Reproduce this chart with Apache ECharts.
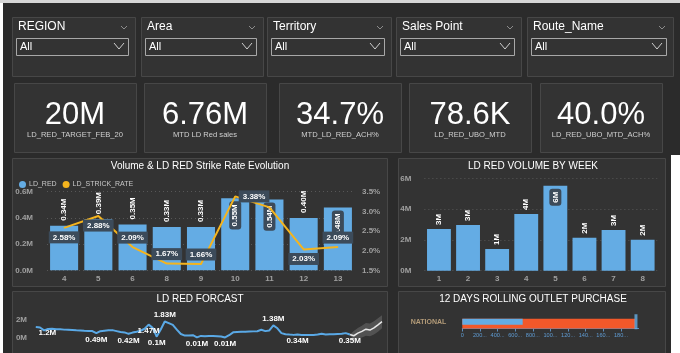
<!DOCTYPE html>
<html><head><meta charset="utf-8">
<script src="https://cdn.jsdelivr.net/npm/echarts@6/dist/echarts.min.js"></script>
<style>html,body{margin:0;padding:0;background:#fff;}#c{width:680px;height:353px;}</style>
</head><body><div id="c"></div>
<script>
// ---------- DATA ----------
const slicerNames = ['REGION', 'Area', 'Territory', 'Sales Point', 'Route_Name'];
const slicerValue = 'All';
const kpiValues = ['20M', '6.76M', '34.7%', '78.6K', '40.0%'];
const kpiLabels = ['LD_RED_TARGET_FEB_20', 'MTD LD Red sales', 'MTD_LD_RED_ACH%', 'LD_RED_UBO_MTD', 'LD_RED_UBO_MTD_ACH%'];

const evoWeeks = ['4', '5', '6', '8', '9', '10', '11', '12', '13'];
const evoVolume = [0.34, 0.39, 0.35, 0.33, 0.33, 0.55, 0.54, 0.40, 0.48];   // M
const evoStrike = [2.58, 2.88, 2.09, 1.67, 1.66, 3.38, 3.10, 2.03, 2.09];   // %

const weekCats = ['1', '2', '3', '4', '5', '6', '7', '8'];
const weekVolume = [2.71, 2.97, 1.41, 3.68, 5.52, 2.14, 2.64, 2.01];        // M

const fcActual = [1.2, 1.15, 0.81, 0.97, 0.99, 0.95, 0.93, 0.9, 0.88, 0.85,
  0.82, 0.8, 0.77, 0.75, 0.73, 0.49, 0.72, 0.77, 0.82, 0.84,
  0.73, 0.62, 0.58, 0.42, 0.56, 0.66, 0.77, 1.0, 1.47, 1.1,
  0.1, 0.92, 1.83, 1.65, 1.45, 0.9, 0.4, 0.22, 0.22, 0.26,
  0.01, 0.18, 0.15, 0.17, 0.18, 0.15, 0.12, 0.01, 0.26, 0.59,
  0.64, 0.66, 0.66, 0.68, 0.7, 0.72, 0.88, 0.73, 0.81, 1.38,
  1.05, 0.5, 0.37, 0.33, 0.3, 0.34, 0.29, 0.29, 0.29, 0.29,
  0.35, 0.44, 0.35, 0.37, 0.37, 0.4, 0.42, 0.5, 0.35];
const fcForecast = [0.35, 0.2, 0.5, 0.7, 0.95, 0.85, 1.1, 1.45, 1.81];
const fcLower = [0.35, -0.35, -0.15, 0.0, 0.2, 0.15, 0.35, 0.65, 1.05];
const fcUpper = [0.35, 0.75, 1.1, 1.35, 1.65, 1.6, 1.85, 2.2, 2.55];
const fcLabelIdx = [0, 15, 23, 28, 30, 32, 40, 47, 59, 65, 78];

const bulletCats = ['NATIONAL'];
const bulletTarget = [19600];
const bulletActual = [6850];
const bulletMarker = [19700];

// ---------- STYLE / LAYOUT ----------
const FONT = '"Liberation Sans", Arial, Helvetica, sans-serif';
const BG = '#2b2b2b', PANEL = '#333333', BORDER = '#474747';
const BLUE = '#64ace4', GOLD = '#f4b41e', SLATE = '#3c4b5a', AXIS = '#a0a0a0';

const G = [];
function rect(x, y, w, h, fill, stroke) {
  G.push({type: 'rect', z: -10, shape: {x: x, y: y, width: w, height: h},
    style: {fill: fill || 'none', stroke: stroke || null, lineWidth: 1}});
}
function text(t, x, y, size, color, align, weight) {
  G.push({type: 'text', z: 5, x: x, y: y,
    style: {text: t, fill: color, font: (weight || 'normal') + ' ' + size + 'px ' + FONT,
      textAlign: align || 'left', textVerticalAlign: 'middle', align: align || 'left', verticalAlign: 'middle'}});
}
function chevron(pts, color) {
  G.push({type: 'polyline', z: 5, shape: {points: pts}, style: {stroke: color, lineWidth: 1, fill: 'none'}});
}
// frame
rect(0, 0, 680, 3, '#d6d6d6');
rect(3, 3, 677, 152, BG);
rect(3, 155, 668, 198, BG);

// slicers
const slicerBoxes = [[12, 123], [141, 122], [267, 124], [396, 125], [527, 146]];
slicerNames.forEach((n, i) => {
  const x = slicerBoxes[i][0], w = slicerBoxes[i][1];
  rect(x + 0.5, 17.5, w, 59, PANEL, BORDER);
  text(n, x + 6, 27, 12, '#ffffff');
  chevron([[x + w - 14, 26], [x + w - 11, 29], [x + w - 8, 26]], '#8c8c8c');
  const dx = x + 4, dw = w - 11;
  rect(dx + 0.5, 38.5, dw, 17, 'none', '#a8a8a8');
  text(slicerValue, dx + 4, 47, 11, '#ffffff');
  chevron([[dx + dw - 14, 43], [dx + dw - 9, 49], [dx + dw - 4, 43]], '#cfcfcf');
});

// KPI cards
const kpiCenters = [75, 205, 340, 470, 601];
kpiValues.forEach((v, i) => {
  const c = kpiCenters[i];
  rect(c - 61 + 0.5, 83.5, 122, 69, PANEL, BORDER);
  text(v, c, 115, 31, '#ffffff', 'center');
  text(kpiLabels[i], c, 135, 7.6, '#d0d0d0', 'center');
});

// chart panels
rect(12.5, 158.5, 375, 128, PANEL, BORDER);
rect(398.5, 158.5, 267, 128, PANEL, BORDER);
rect(12.5, 291.5, 375, 62, PANEL, BORDER);
rect(398.5, 291.5, 267, 62, PANEL, BORDER);
text('Volume & LD RED Strike Rate Evolution', 200, 166.5, 10, '#ffffff', 'center');
text('LD RED VOLUME BY WEEK', 533, 166.5, 10, '#ffffff', 'center');
text('LD RED FORCAST', 200, 299, 10, '#ffffff', 'center');
text('12 DAYS ROLLING OUTLET PURCHASE', 533, 299, 10, '#ffffff', 'center');

// ---------- SERIES DATA BUILD ----------
const evoVolData = evoVolume.map(v => ({
  value: v,
  label: v >= 0.45
    ? {position: 'insideTop', align: 'right', distance: 3, backgroundColor: SLATE, padding: [2, 3], borderRadius: 3}
    : {position: 'top', align: 'left', distance: 5}
}));
const strikePos = ['bottom', 'bottom', 'top', 'top', 'top', 'right', null, 'bottom', 'top'];
const strikeData = evoStrike.map((v, i) => ({
  value: v,
  label: strikePos[i] ? {show: true, position: strikePos[i]} : {show: false}
}));
const weekData = weekVolume.map(v => ({
  value: v,
  label: v >= 5
    ? {position: 'insideTop', align: 'right', distance: 3, backgroundColor: SLATE, padding: [2, 3], borderRadius: 3}
    : {position: 'top', align: 'left', distance: 4}
}));

const nAct = fcActual.length;
const nAll = nAct + fcForecast.length - 1;
const fcDays = Array.from({length: nAll}, (_, i) => String(i + 1));
const fcLabelPos = {0: {position: 'right', offset: [0, 6]}, 32: {position: 'top'}, 59: {position: 'top'}};
const actualSeries = fcDays.map((_, i) => {
  if (i >= nAct) return '-';
  const o = {value: fcActual[i]};
  if (fcLabelIdx.indexOf(i) >= 0) {
    o.label = Object.assign({show: true, position: 'bottom', distance: 2}, fcLabelPos[i] || {});
  }
  return o;
});
const pad = (arr) => fcDays.map((_, i) => i >= nAct - 1 ? arr[i - (nAct - 1)] : '-');
const forecastSeries = pad(fcForecast);
const lowerSeries = pad(fcLower);
const bandSeries = pad(fcUpper.map((u, i) => +(u - fcLower[i]).toFixed(3)));

const axisLbl = {color: AXIS, fontSize: 8, fontWeight: 'bold', fontFamily: FONT};
const dotted = {show: true, lineStyle: {color: '#575757', type: [1, 3], width: 1}};

const option = {
  animation: false,
  backgroundColor: 'transparent',
  textStyle: {fontFamily: FONT},
  graphic: {elements: G},
  legend: {
    left: 14, top: 176, itemWidth: 7, itemHeight: 7, itemGap: 6, icon: 'circle',
    data: ['LD_RED', 'LD_STRICK_RATE'],
    textStyle: {color: '#c8c8c8', fontSize: 7, fontFamily: FONT, padding: [0, 0, 0, -2]}
  },
  grid: [
    {left: 47, top: 191.7, width: 308, height: 78.6, containLabel: false},
    {left: 424.4, top: 178.3, width: 232.8, height: 92.4, containLabel: false},
    {left: 36, top: 313, width: 346, height: 31.5, containLabel: false},
    {left: 462.3, top: 315, width: 176.3, height: 13.5, containLabel: false}
  ],
  xAxis: [
    {type: 'category', gridIndex: 0, data: evoWeeks, axisLine: {show: false}, axisTick: {show: false},
      axisLabel: Object.assign({margin: 4}, axisLbl)},
    {type: 'category', gridIndex: 1, data: weekCats, axisLine: {show: false}, axisTick: {show: false},
      axisLabel: Object.assign({margin: 4}, axisLbl)},
    {type: 'category', gridIndex: 2, data: fcDays, boundaryGap: false, show: false},
    {type: 'value', gridIndex: 3, min: 0, max: 20000, interval: 2000,
      axisLine: {show: true, lineStyle: {color: '#5f8fbd'}},
      axisTick: {show: true, length: 3, lineStyle: {color: '#5f8fbd'}},
      splitLine: {show: false},
      axisLabel: {color: '#5f9bd2', fontSize: 5.6, fontFamily: FONT, margin: 4, showMaxLabel: false, hideOverlap: false,
        formatter: v => v === 0 ? '0' : String(v).slice(0, 3) + '...'}}
  ],
  yAxis: [
    {type: 'value', gridIndex: 0, min: 0, max: 0.6, interval: 0.2, splitLine: dotted,
      axisLabel: Object.assign({margin: 14, formatter: v => v.toFixed(1) + 'M'}, axisLbl)},
    {type: 'value', gridIndex: 0, position: 'right', min: 1.5, max: 3.5, interval: 0.5, splitLine: {show: false},
      axisLabel: Object.assign({margin: 7, formatter: v => v.toFixed(1) + '%'}, axisLbl)},
    {type: 'value', gridIndex: 1, min: 0, max: 6, interval: 2, splitLine: dotted,
      axisLabel: Object.assign({margin: 13, formatter: v => v + 'M'}, axisLbl)},
    {type: 'value', gridIndex: 2, min: -0.8, max: 2.8, interval: 0.4, splitLine: {show: false},
      axisLabel: Object.assign({margin: 9, formatter: v => (Math.abs(v) < 1e-6 ? '0M' : (Math.abs(v - 2) < 1e-6 ? '2M' : ''))}, axisLbl)},
    {type: 'category', gridIndex: 3, data: bulletCats, axisLine: {show: false}, axisTick: {show: false},
      axisLabel: {color: '#b39b78', fontSize: 7, fontWeight: 'bold', fontFamily: FONT, margin: 16}}
  ],
  series: [
    {name: 'LD_RED', type: 'bar', xAxisIndex: 0, yAxisIndex: 0, data: evoVolData, barCategoryGap: '18%',
      itemStyle: {color: BLUE},
      label: {show: true, rotate: 90, verticalAlign: 'middle', color: '#ffffff', fontSize: 8, fontWeight: 'bold',
        fontFamily: FONT, formatter: p => p.value.toFixed(2) + 'M'}},
    {name: 'LD_STRICK_RATE', type: 'line', xAxisIndex: 0, yAxisIndex: 1, data: strikeData, z: 5,
      symbol: 'circle', symbolSize: 1, showAllSymbol: true,
      itemStyle: {color: GOLD}, lineStyle: {color: GOLD, width: 2},
      label: {show: false, distance: 3, color: '#ffffff', fontSize: 8, fontWeight: 'bold', fontFamily: FONT,
        backgroundColor: SLATE, padding: [2, 4], formatter: p => p.value.toFixed(2) + '%'}},
    {name: 'week', type: 'bar', xAxisIndex: 1, yAxisIndex: 2, data: weekData, barCategoryGap: '18%',
      itemStyle: {color: BLUE},
      label: {show: true, rotate: 90, verticalAlign: 'middle', color: '#ffffff', fontSize: 8, fontWeight: 'bold',
        fontFamily: FONT, formatter: p => Math.round(p.value) + 'M'}},
    {name: 'bandLow', type: 'line', xAxisIndex: 2, yAxisIndex: 3, data: lowerSeries, stack: 'band', stackStrategy: 'all',
      symbol: 'none', lineStyle: {opacity: 0}, silent: true},
    {name: 'band', type: 'line', xAxisIndex: 2, yAxisIndex: 3, data: bandSeries, stack: 'band', stackStrategy: 'all',
      symbol: 'none', lineStyle: {opacity: 0}, areaStyle: {color: 'rgba(150,150,150,0.45)'}, silent: true},
    {name: 'forecast', type: 'line', xAxisIndex: 2, yAxisIndex: 3, data: forecastSeries, z: 4,
      symbol: 'none', lineStyle: {color: '#e8e8e8', width: 1.5}},
    {name: 'actual', type: 'line', xAxisIndex: 2, yAxisIndex: 3, data: actualSeries, z: 5,
      symbol: 'circle', symbolSize: 1, showAllSymbol: true,
      itemStyle: {color: '#5aa9e6'}, lineStyle: {color: '#5aa9e6', width: 2},
      label: {show: false, color: '#ffffff', fontSize: 8, fontWeight: 'bold', fontFamily: FONT,
        formatter: p => p.value + 'M'}},
    {name: 'target', type: 'bar', xAxisIndex: 3, yAxisIndex: 4, data: bulletTarget, barWidth: 13,
      itemStyle: {color: '#f2582a'}},
    {name: 'actualBullet', type: 'bar', xAxisIndex: 3, yAxisIndex: 4, data: bulletActual, barWidth: 6, barGap: '-100%',
      itemStyle: {color: '#64ace4'}},
    {name: 'marker', type: 'scatter', xAxisIndex: 3, yAxisIndex: 4, data: bulletMarker.map((v, i) => [v, i]),
      symbol: 'rect', symbolSize: [3, 15], itemStyle: {color: '#64ace4'}, z: 6}
  ]
};
const chart = echarts.init(document.getElementById('c'), null, {renderer: 'canvas'});
chart.setOption(option);
</script>
</body></html>
